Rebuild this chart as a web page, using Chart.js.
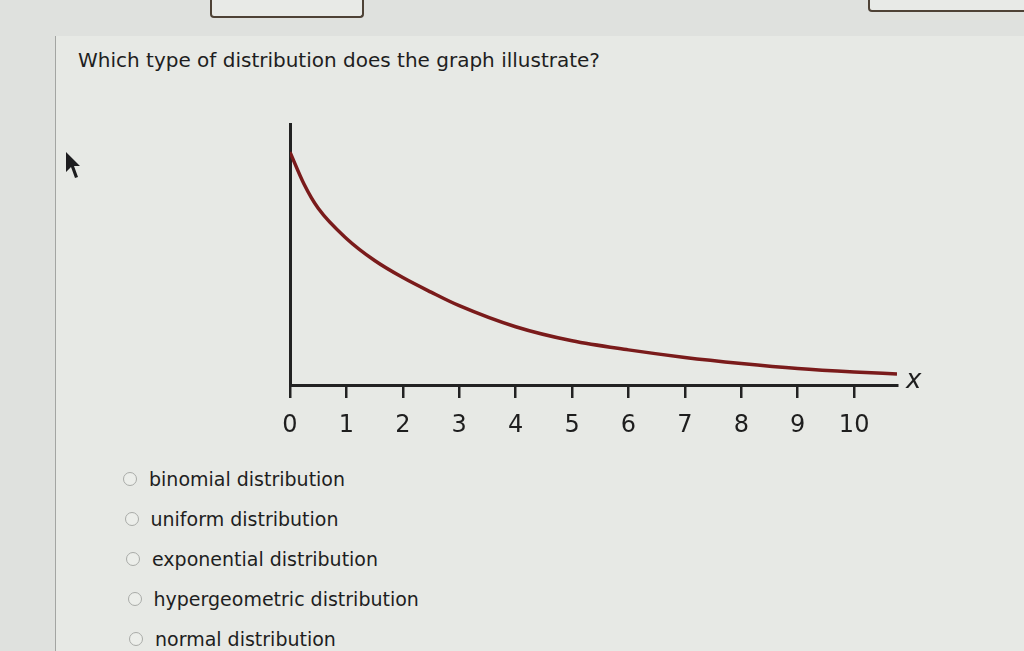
<!DOCTYPE html>
<html>
<head>
  <title>Which type of distribution</title>
  <script src="https://cdn.jsdelivr.net/npm/chart.js"></script>
  <style>
    html, body { margin: 0; padding: 0; }
    body {
      width: 1024px; height: 651px; overflow: hidden; position: relative;
      background: #dfe1de;
      font-family: "DejaVu Sans", Verdana, sans-serif;
      color: #1e1e1e;
    }
    .topbox { position: absolute; background: #e8eae7; border: 2px solid #4e4236; border-top: none; border-radius: 0 0 4px 4px; }
    #panel { position: absolute; left: 55px; top: 36px; right: 0; bottom: 0; background: #e7e9e5; border-left: 1px solid #a3a5a2; }
    #question { position: absolute; left: 78px; top: 48px; font-size: 20px; }
    #chart-container { position: absolute; left: 250px; top: 100px; width: 700px; height: 360px; }
    #xlabel { position: absolute; left: 906px; top: 364px; font-size: 26px; font-style: italic; }
    .opt { position: absolute; font-size: 19px; height: 24px; line-height: 24px; }
    .opt span.radio { position: absolute; left: -26px; top: 5px; width: 12px; height: 12px; border: 1px solid #a9aba8; border-radius: 50%; background: #eceeea; }
  </style>
</head>
<body>
  <div class="topbox" style="left: 210px; top: -2px; width: 150px; height: 18px;"></div>
  <div class="topbox" style="left: 868px; top: -2px; width: 160px; height: 12px;"></div>
  <div id="panel"></div>
  <div id="question">Which type of distribution does the graph illustrate?</div>
  <svg style="position:absolute; left:62px; top:150px;" width="20" height="32">
    <polygon points="4,2 4,22 9,17 13,28 16,27 12,16 18,16" fill="#1d1d1f"/>
  </svg>
  <div id="chart-container"><canvas id="chart"></canvas></div>
  <div id="xlabel">x</div>
  <div id="options"></div>
  <script>
    const curveX = [0, 0.25, 0.5, 1, 1.5, 2, 2.5, 3, 4, 5, 6, 7, 8, 9, 10, 10.76];
    const curveY = [2.32, 2.0, 1.76, 1.46, 1.24, 1.07, 0.925, 0.79, 0.58, 0.44, 0.35, 0.275, 0.215, 0.165, 0.13, 0.11];
    const xTicks = [0, 1, 2, 3, 4, 5, 6, 7, 8, 9, 10];
    const answers = ['binomial distribution', 'uniform distribution', 'exponential distribution',
                     'hypergeometric distribution', 'normal distribution'];

    const AXIS = '#222222';

    // answer list, drifting slightly right like the photo
    const opts = document.getElementById('options');
    answers.forEach((a, i) => {
      const d = document.createElement('div');
      d.className = 'opt';
      d.style.left = (149 + i * 1.5) + 'px';
      d.style.top = (467 + i * 40) + 'px';
      d.innerHTML = '<span class="radio"></span>' + a;
      opts.appendChild(d);
    });

    const config = {
      type: 'line',
      data: {
        datasets: [{
          data: curveX.map((x, i) => ({ x: x, y: curveY[i] })),
          borderColor: '#7a1b1b',
          borderWidth: 3.5,
          pointRadius: 0,
          cubicInterpolationMode: 'monotone',
          fill: false
        }]
      },
      options: {
        responsive: true,
        maintainAspectRatio: false,
        animation: false,
        layout: { padding: { left: 40, right: 53, top: 24, bottom: 15 } },
        plugins: { legend: { display: false }, tooltip: { enabled: false } },
        scales: {
          x: {
            type: 'linear',
            min: 0,
            max: 10.76,
            afterFit: (s) => { s.height = 60; },
            afterBuildTicks: (s) => { s.ticks = xTicks.map(v => ({ value: v })); },
            grid: { display: true, drawOnChartArea: false, drawTicks: true, tickLength: 13, lineWidth: 2.5, color: AXIS },
            border: { display: true, width: 3, color: AXIS },
            ticks: {
              color: '#1e1e1e',
              padding: 13,
              maxRotation: 0,
              autoSkip: false,
              font: { family: '"DejaVu Sans"', size: 24 }
            }
          },
          y: {
            type: 'linear',
            min: 0,
            max: 2.6,
            afterFit: (s) => { s.width = 0; },
            grid: { display: false },
            border: { display: true, width: 3, color: AXIS },
            ticks: { display: false }
          }
        }
      }
    };

    const chart = new Chart(document.getElementById('chart'), config);
  </script>
</body>
</html>
